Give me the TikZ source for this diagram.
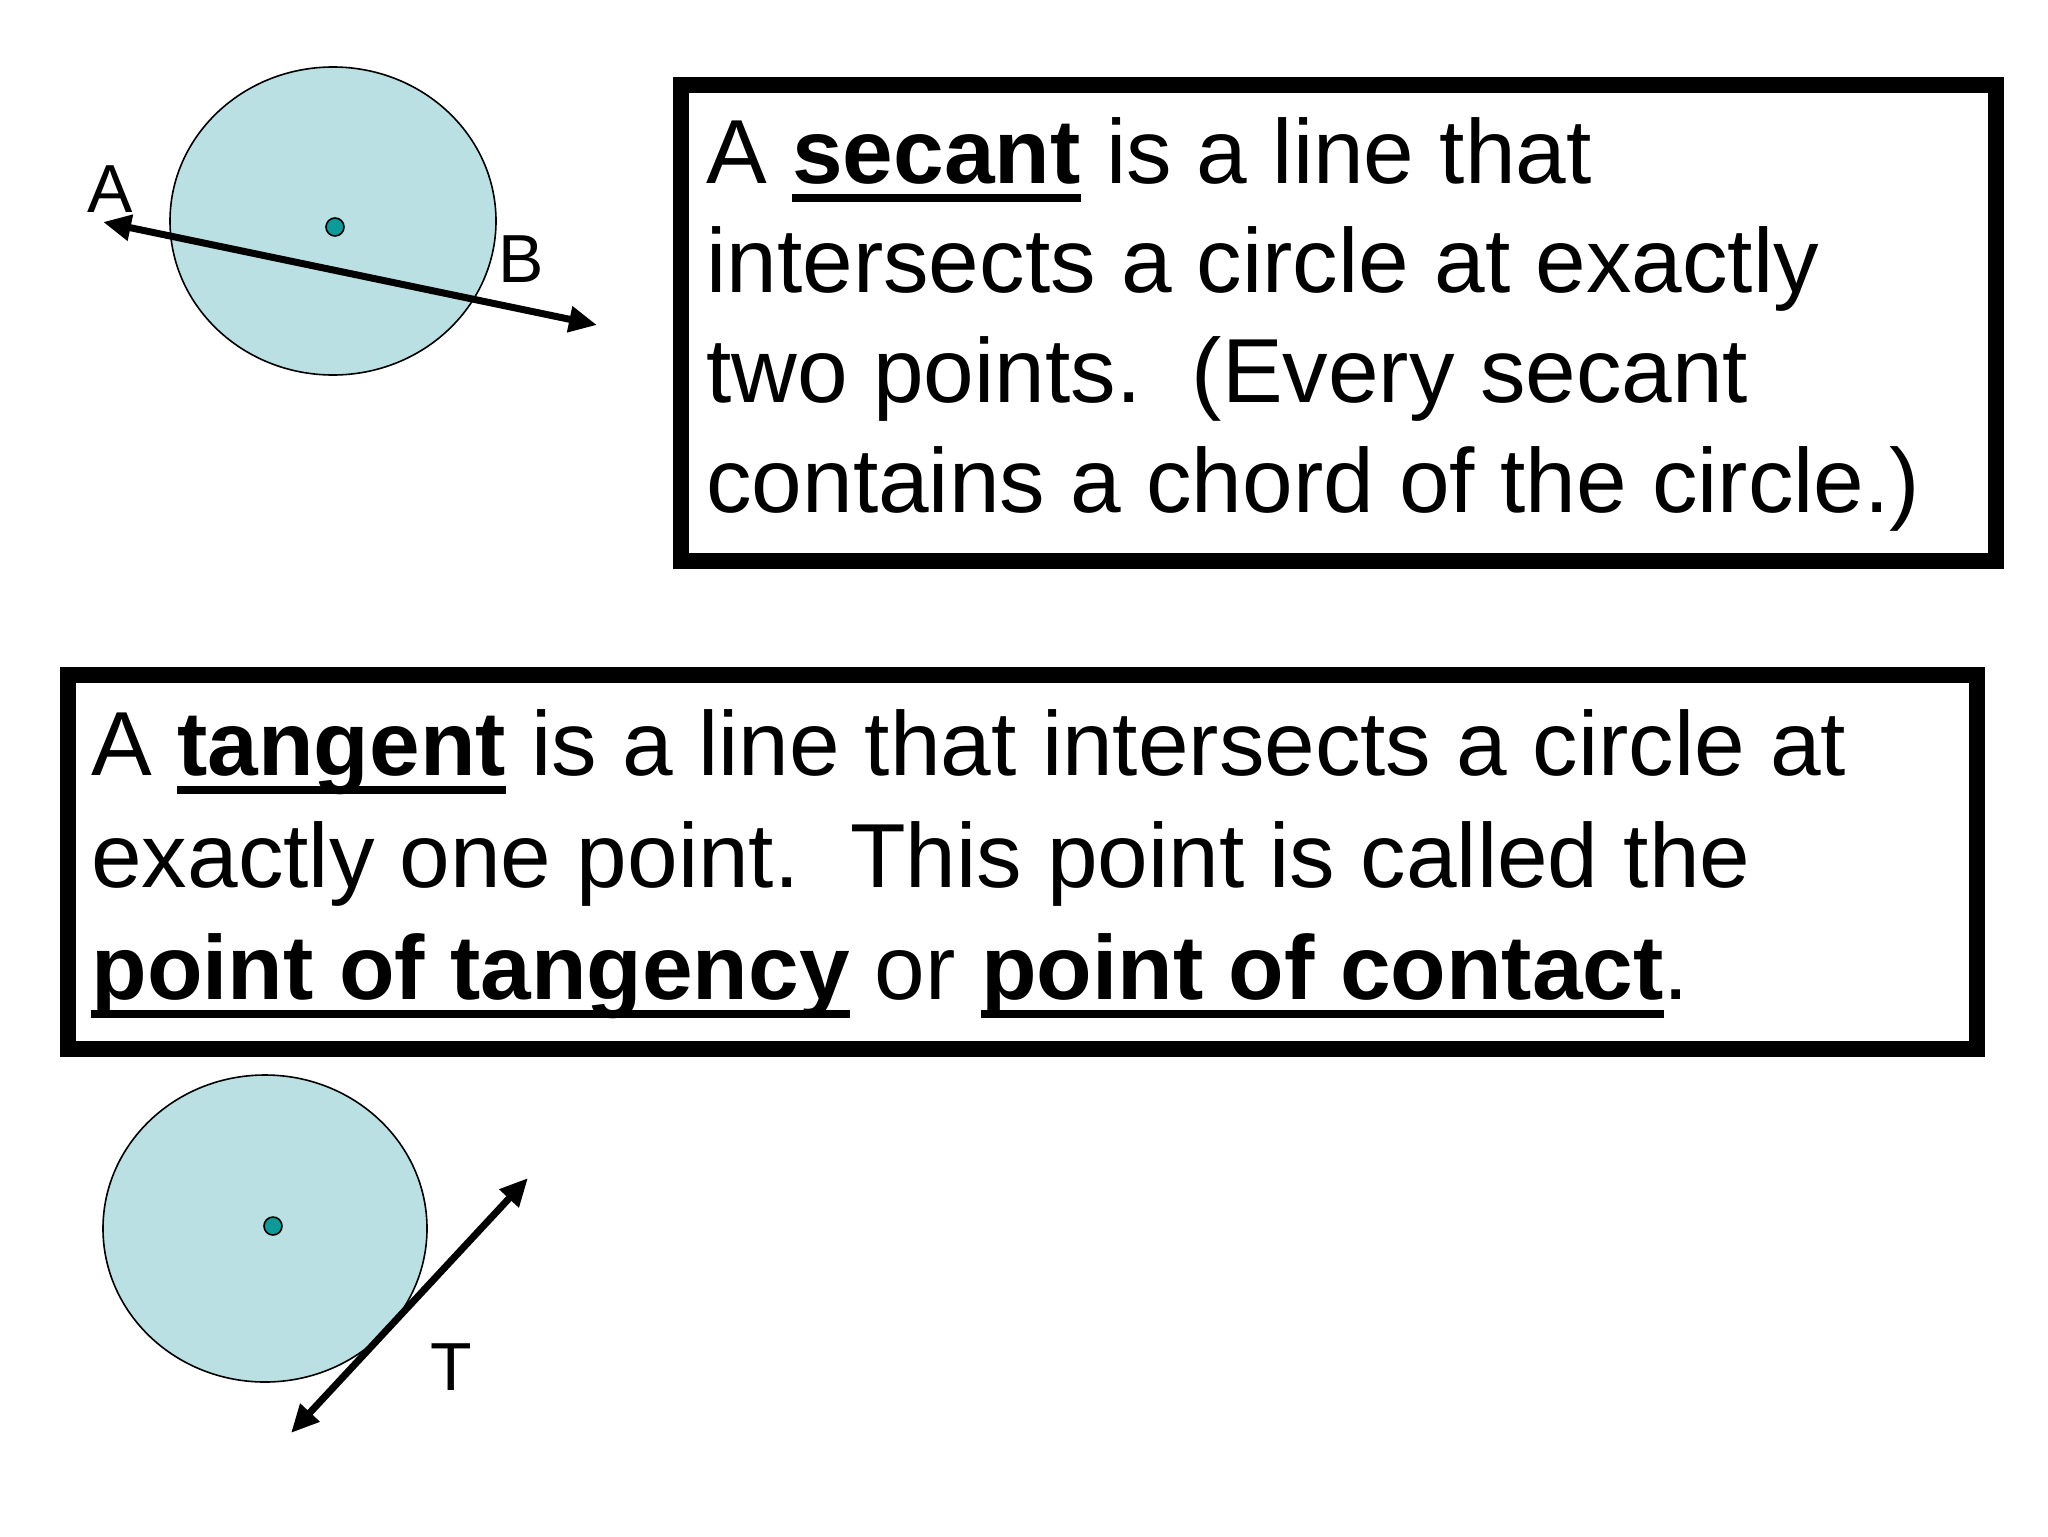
\documentclass[tikz,border=0pt]{standalone}
\usepackage{fontspec}
\setmainfont{Liberation Sans}
\usetikzlibrary{arrows.meta}
\definecolor{circfill}{HTML}{BBE0E3}
\definecolor{dotfill}{HTML}{0E9A98}
\newcommand\bul[1]{\setbox0\hbox{\bfseries #1}\rlap{\rule[-9.5pt]{\wd0}{4pt}}\box0\relax}
\begin{document}
\begin{tikzpicture}[x=0.5pt,y=-0.5pt,
  defbox/.style={draw=black, line width=8pt, fill=white},
  txt/.style={anchor=base west, inner sep=0pt, font=\fontsize{45.5}{52}\selectfont},
  lbl/.style={inner sep=0pt, font=\fontsize{34}{40}\selectfont},
  disc/.style={draw=black, line width=0.8pt, fill=circfill},
  ctr/.style={circle, draw=black, line width=0.8pt, fill=dotfill, minimum size=9pt, inner sep=0pt},
  arrline/.style={line width=3.5pt, {Triangle[length=14pt,width=12.5pt]}-{Triangle[length=14pt,width=12.5pt]}}]
\useasboundingbox[fill=white] (0,0) rectangle (2048,1536);
% secant figure
\draw[disc] (333,221) ellipse [x radius=81.5pt, y radius=77pt];
\node[ctr] (c1) at (335,227) {};
\coordinate (sa) at (103,222);
\coordinate (sb) at (597,325);
\draw[arrline] (sa) -- (sb);
\node[lbl] (la) at (110.5,189) {A};
\node[lbl] (lb) at (521,259) {B};
% secant box
\draw[defbox] (681,85) rectangle (1996,561);
\node[txt] (s1) at (706,183) {A \bul{secant} is a line that};
\node[txt] (s2) at (706,292) {intersects a circle at exactly};
\node[txt] (s3) at (706,402) {two points.\ \ (Every secant};
\node[txt] (s4) at (706,512) {contains a chord of the circle.)};
% tangent box
\draw[defbox] (68,675) rectangle (1977,1049);
\node[txt] (t1) at (91,775) {A \bul{tangent} is a line that intersects a circle at};
\node[txt] (t2) at (91,887) {exactly one point.\ \ This point is called the};
\node[txt] (t3) at (91,999) {\bul{point of tangency} or \bul{point of contact}.};
% tangent figure
\draw[disc] (265,1228.5) ellipse [x radius=81pt, y radius=76.75pt];
\node[ctr] (c2) at (273,1226) {};
\coordinate (ta) at (291,1433);
\coordinate (tb) at (528,1178);
\draw[arrline] (ta) -- (tb);
\node[lbl] (lt) at (451,1367) {T};
\end{tikzpicture}
\end{document}
